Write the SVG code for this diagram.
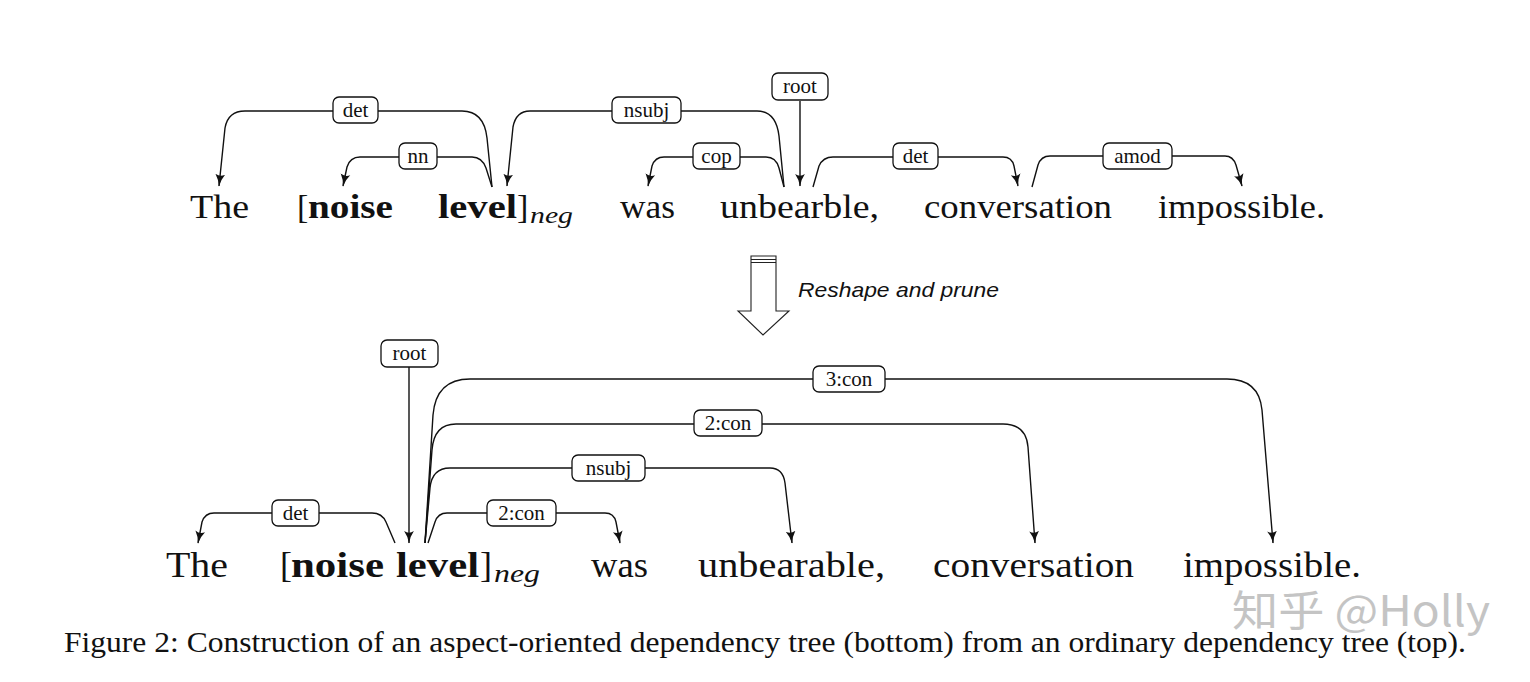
<svg xmlns="http://www.w3.org/2000/svg" width="1530" height="682" viewBox="0 0 1530 682">
<defs>
<marker id="ah" viewBox="0 0 12 10" markerWidth="13" markerHeight="11" refX="11" refY="5" orient="auto" markerUnits="userSpaceOnUse">
<path d="M0,0.5 Q5,4 11.5,5 Q5,6 0,9.5 Q3,5 0,0.5 Z" fill="#111"/>
</marker>
<style>
.w{font-family:"Liberation Serif","Times New Roman",serif;fill:#111}
.t{font-size:34px}
.b{font-size:36px}
.bf{font-weight:bold}
.sub{font-style:italic}
.e{fill:none;stroke:#111;stroke-width:1.4;marker-end:url(#ah)}
.box{fill:#fff;stroke:#111;stroke-width:1.3}
.lt{font-size:21px;fill:#111;text-anchor:middle}
</style>
</defs>
<rect width="1530" height="682" fill="#fff"/>

<!-- watermark -->
<text x="1232" y="626" font-family="'Noto Sans CJK SC','Noto Sans',sans-serif" font-size="42" fill="#c4c4c4" textLength="258" lengthAdjust="spacingAndGlyphs">知乎 @Holly</text>

<!-- top sentence -->
<g id="top-The"><text class="w t" x="190" y="218" textLength="59" lengthAdjust="spacingAndGlyphs">The</text></g>
<g id="top-noise"><text class="w t" x="297" y="218">[</text><text class="w t bf" x="308" y="218" textLength="85" lengthAdjust="spacingAndGlyphs">noise</text></g>
<g id="top-level"><text class="w t bf" x="438" y="218" textLength="79" lengthAdjust="spacingAndGlyphs">level</text><text class="w t" x="517" y="218">]</text><text class="w sub" x="530" y="223" font-size="24" textLength="43" lengthAdjust="spacingAndGlyphs">neg</text></g>
<g id="top-was"><text class="w t" x="620" y="218" textLength="55" lengthAdjust="spacingAndGlyphs">was</text></g>
<g id="top-unbearble"><text class="w t" x="720" y="218" textLength="159" lengthAdjust="spacingAndGlyphs">unbearble,</text></g>
<g id="top-conversation"><text class="w t" x="924" y="218" textLength="188" lengthAdjust="spacingAndGlyphs">conversation</text></g>
<g id="top-impossible"><text class="w t" x="1158" y="218" textLength="167" lengthAdjust="spacingAndGlyphs">impossible.</text></g>

<!-- transform arrow -->
<g id="reshape-arrow">
<path d="M751,256 H776 V311 H789 L763,335 L738,311 H751 Z" fill="#fff" stroke="#222" stroke-width="1.1"/>
<path d="M751,259.5 H776 M751,262.5 H776" stroke="#222" stroke-width="1.1"/>
<text x="798" y="297" font-family="'Liberation Sans',Arial,sans-serif" font-style="italic" font-size="21" fill="#111" textLength="201" lengthAdjust="spacingAndGlyphs">Reshape and prune</text>
</g>

<!-- bottom sentence -->
<g id="bot-The"><text class="w b" x="166" y="577" textLength="62" lengthAdjust="spacingAndGlyphs">The</text></g>
<g id="bot-noise-level"><text class="w b" x="280" y="577">[</text><text class="w b bf" x="291" y="577" textLength="93" lengthAdjust="spacingAndGlyphs">noise</text><text class="w b bf" x="396" y="577" textLength="83" lengthAdjust="spacingAndGlyphs">level</text><text class="w b" x="480" y="577">]</text><text class="w sub" x="494" y="582" font-size="25" textLength="46" lengthAdjust="spacingAndGlyphs">neg</text></g>
<g id="bot-was"><text class="w b" x="591" y="577" textLength="57" lengthAdjust="spacingAndGlyphs">was</text></g>
<g id="bot-unbearable"><text class="w b" x="698" y="577" textLength="187" lengthAdjust="spacingAndGlyphs">unbearable,</text></g>
<g id="bot-conversation"><text class="w b" x="933" y="577" textLength="201" lengthAdjust="spacingAndGlyphs">conversation</text></g>
<g id="bot-impossible"><text class="w b" x="1183" y="577" textLength="178" lengthAdjust="spacingAndGlyphs">impossible.</text></g>

<!-- connectors -->
<g id="connectors">
<path class="e" d="M492,187 L487,138 Q484,111 462,111 H245 Q228,111 225,128 L219,186"/>
<path class="e" d="M492,187 L486,168 Q482,157 472,157 H360 Q350,157 347,167 L343,186"/>
<path class="e" d="M784,187 L779,136 Q776,111 757,111 H530 Q516,111 513,127 L507,186"/>
<path class="e" d="M784,187 L779,168 Q776,157 766,157 H664 Q655,157 652,166 L648,186"/>
<path class="e" d="M800,101 L800,186"/>
<path class="e" d="M813,187 L819,166 Q823,157 833,157 H1003 Q1012,157 1014,166 L1018,186"/>
<path class="e" d="M1032,187 L1038,165 Q1041,156 1050,156 H1225 Q1233,156 1236,165 L1242,186"/>

<path class="e" d="M409,367 L409,543"/>
<path class="e" d="M395,543 L386,522 Q382,513 372,513 H214 Q205,513 202,522 L198,543"/>
<path class="e" d="M425,543 L433,415 Q436,379 470,379 H1227 Q1259,379 1262,410 L1273,543"/>
<path class="e" d="M425,543 L432,450 Q434,424 456,424 H1003 Q1026,424 1028,447 L1035,543"/>
<path class="e" d="M425,543 L430,488 Q432,468 450,468 H770 Q783,468 785,483 L792,543"/>
<path class="e" d="M428,543 L435,522 Q438,513 447,513 H605 Q614,513 616,522 L620,543"/>
</g>

<!-- edge labels -->
<g id="labels" font-family="'Liberation Serif','Times New Roman',serif">
<g id="lbl-top-det"><rect class="box" x="333" y="97" width="45" height="26" rx="6"/><text class="lt" x="355.5" y="117">det</text></g>
<g id="lbl-top-nn"><rect class="box" x="399" y="143" width="38" height="26" rx="6"/><text class="lt" x="418" y="163">nn</text></g>
<g id="lbl-top-nsubj"><rect class="box" x="612" y="97" width="69" height="26" rx="6"/><text class="lt" x="646.5" y="117">nsubj</text></g>
<g id="lbl-top-root"><rect class="box" x="772" y="73" width="56" height="27" rx="6"/><text class="lt" x="800" y="93">root</text></g>
<g id="lbl-top-cop"><rect class="box" x="693" y="143" width="47" height="26" rx="6"/><text class="lt" x="716.5" y="163">cop</text></g>
<g id="lbl-top-det2"><rect class="box" x="893" y="143" width="45" height="26" rx="6"/><text class="lt" x="915.5" y="163">det</text></g>
<g id="lbl-top-amod"><rect class="box" x="1103" y="143" width="69" height="26" rx="6"/><text class="lt" x="1137.5" y="163">amod</text></g>

<g id="lbl-bot-root"><rect class="box" x="381" y="340" width="57" height="27" rx="6"/><text class="lt" x="409.5" y="360">root</text></g>
<g id="lbl-bot-3con"><rect class="box" x="813" y="366" width="72" height="26" rx="6"/><text class="lt" x="849" y="386">3:con</text></g>
<g id="lbl-bot-2con-a"><rect class="box" x="694" y="410" width="68" height="26" rx="6"/><text class="lt" x="728" y="430">2:con</text></g>
<g id="lbl-bot-nsubj"><rect class="box" x="572" y="455" width="73" height="26" rx="6"/><text class="lt" x="608.5" y="475">nsubj</text></g>
<g id="lbl-bot-det"><rect class="box" x="272" y="500" width="47" height="26" rx="6"/><text class="lt" x="295.5" y="520">det</text></g>
<g id="lbl-bot-2con-b"><rect class="box" x="487" y="500" width="69" height="26" rx="6"/><text class="lt" x="521.5" y="520">2:con</text></g>
</g>

<!-- caption -->
<text x="64" y="652" font-family="'Liberation Serif','Times New Roman',serif" font-size="29" fill="#111" textLength="1402" lengthAdjust="spacingAndGlyphs">Figure 2: Construction of an aspect-oriented dependency tree (bottom) from an ordinary dependency tree (top).</text>
</svg>
